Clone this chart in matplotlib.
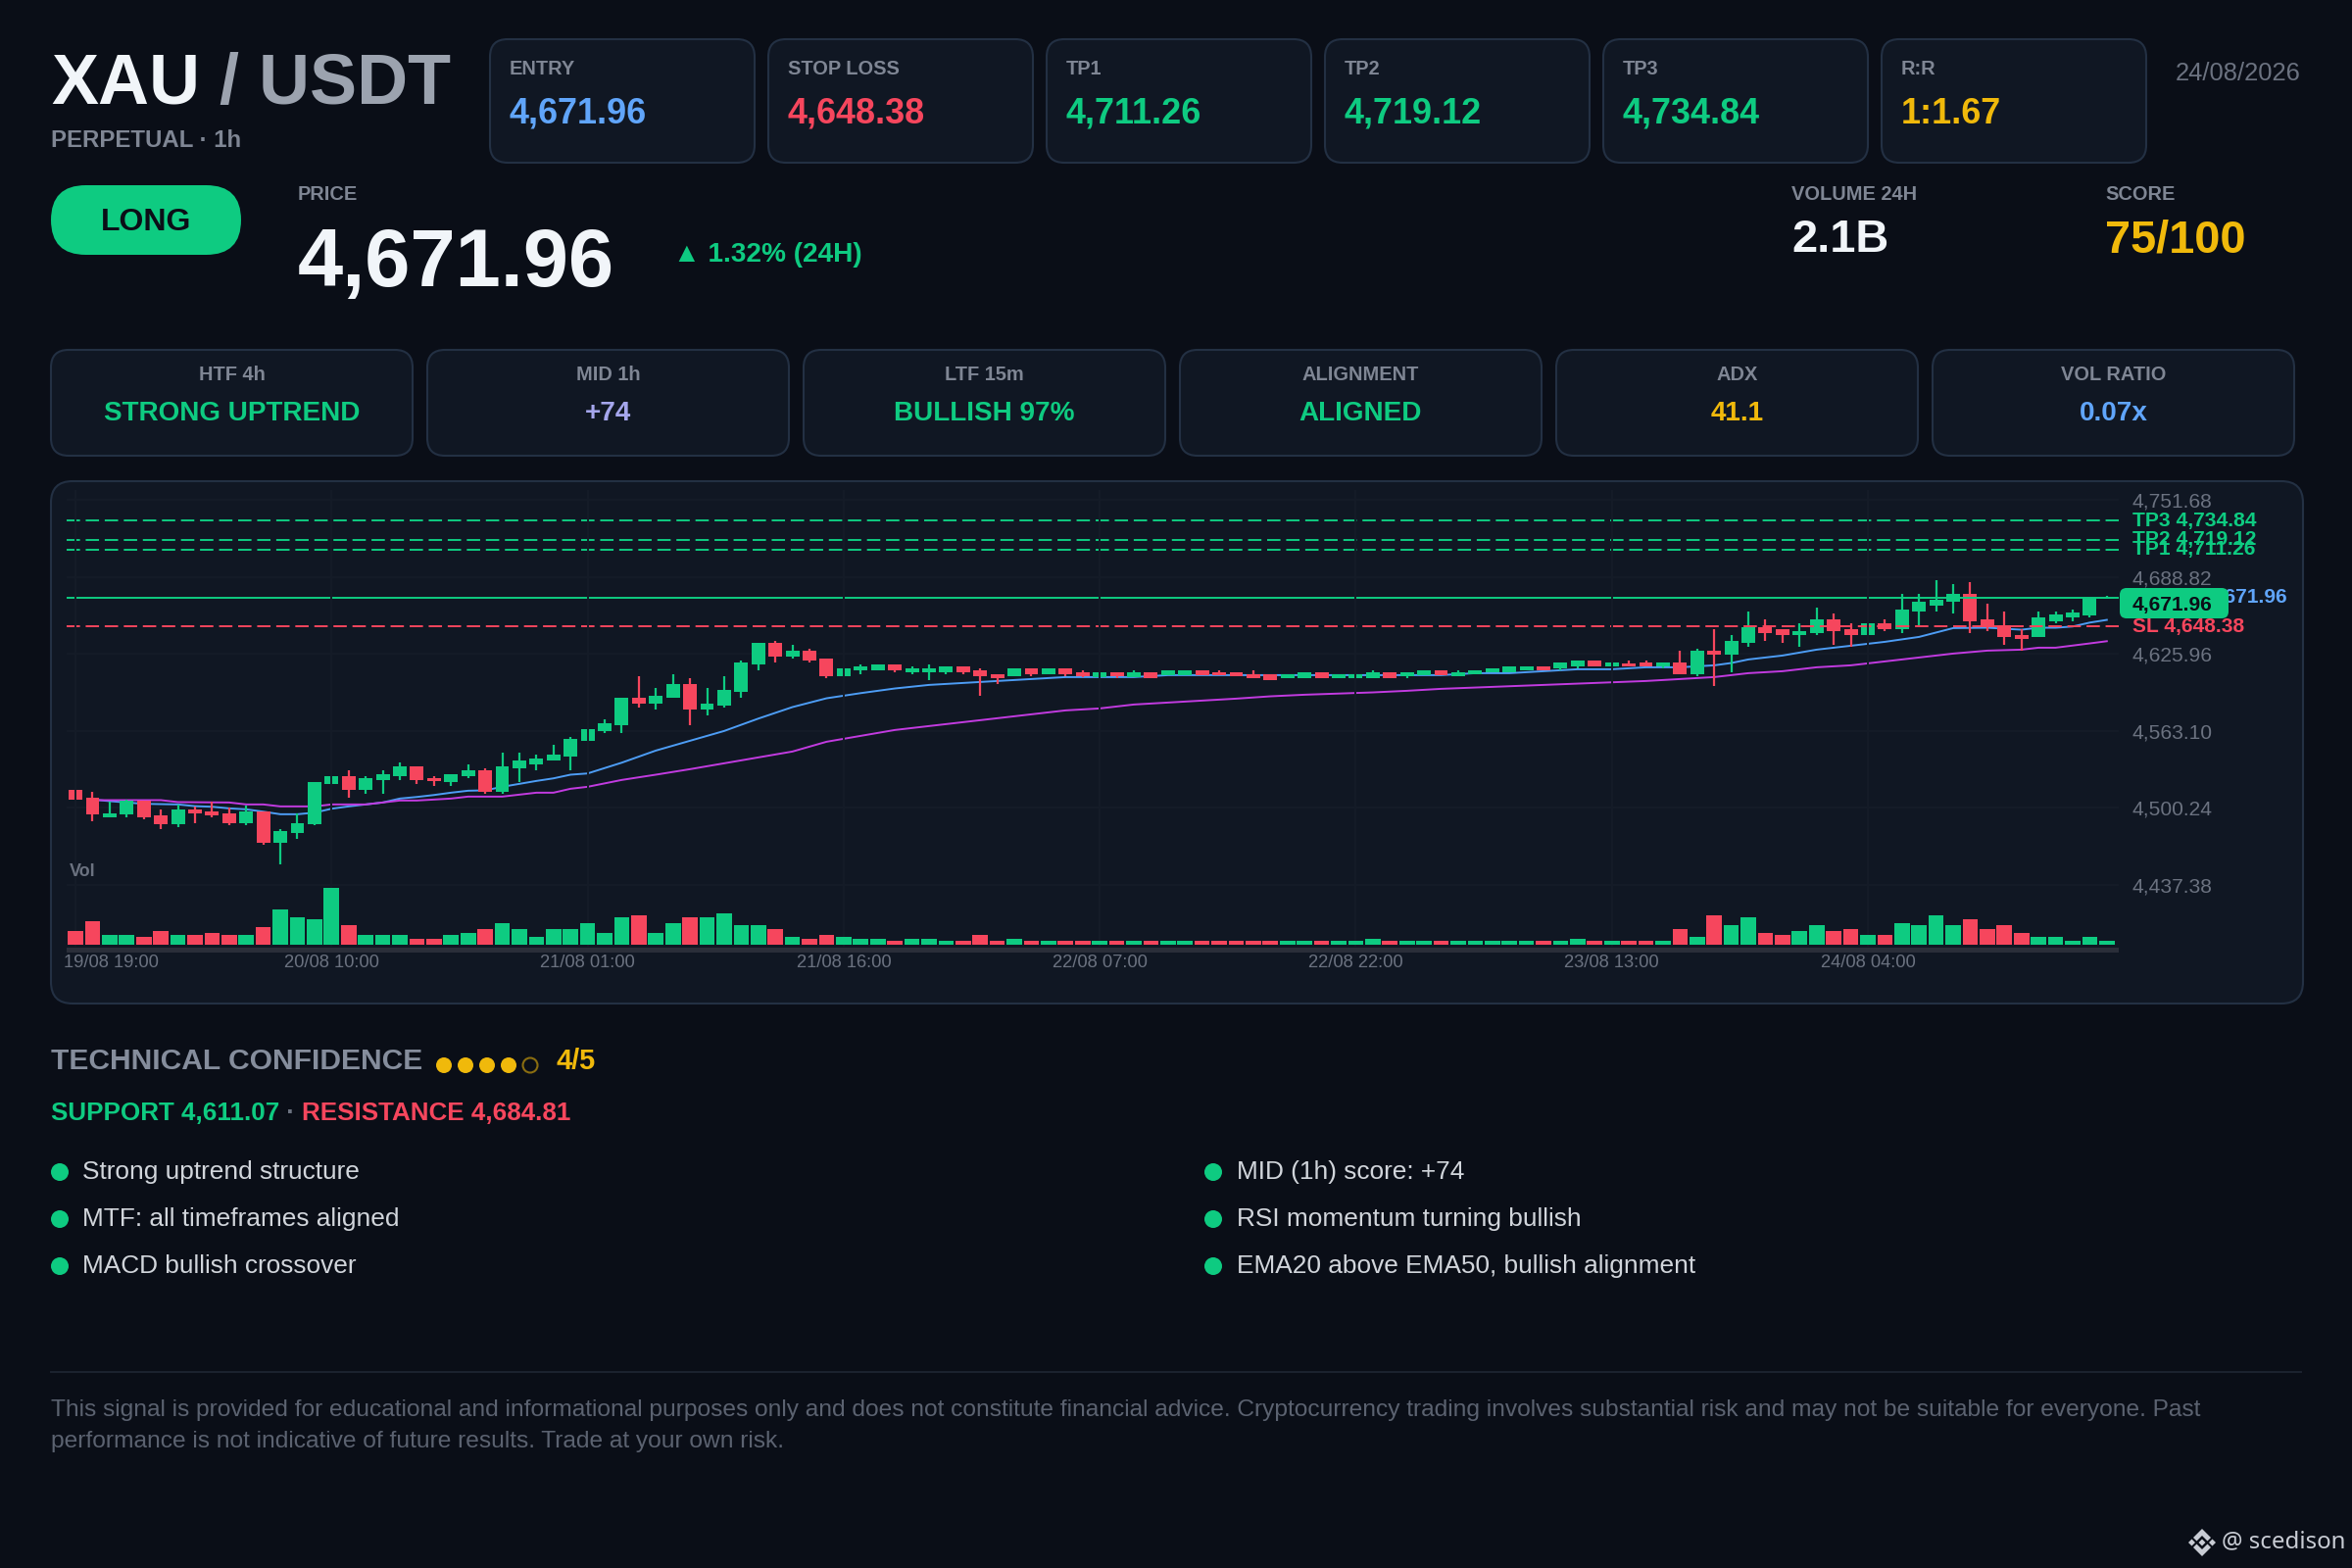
import matplotlib
matplotlib.use("Agg")
import matplotlib.pyplot as plt
from matplotlib.patches import FancyBboxPatch, Circle, Polygon
from matplotlib.transforms import ScaledTranslation

plt.rcParams['font.family'] = ['Liberation Sans', 'DejaVu Sans']

BG = '#0a0e17'
CARD = '#101723'
BORDER = '#233043'
GREEN = '#0ecb81'
RED = '#f6465d'
YELLOW = '#f0b90b'
BLUE = '#60a5fa'
LILAC = '#a5a6ec'
WHITE = '#f1f5f9'
MUTED = '#7f8694'
GRID = '#151c28'

# candles
opens = [4514.9, 4508.2, 4492.5, 4494.4, 4505.6, 4493.8, 4486.4, 4498.9, 4497.0, 4495.4,
         4487.7, 4497.0, 4471.7, 4479.7, 4486.4, 4519.7, 4526.1, 4514.9, 4522.9, 4525.8,
         4533.8, 4524.5, 4521.3, 4525.8, 4530.6, 4513.3, 4532.5, 4535.7, 4538.9, 4542.1,
         4554.9, 4562.6, 4568.0, 4589.8, 4585.0, 4590.1, 4601.0, 4580.5, 4583.7, 4594.9,
         4617.3, 4634.9, 4623.7, 4628.5, 4622.1, 4607.7, 4612.5, 4612.5, 4617.0, 4610.9,
         4610.9, 4610.9, 4615.4, 4612.5, 4609.0, 4608.0, 4614.1, 4609.3, 4614.1, 4610.9,
         4606.6, 4610.9, 4606.6, 4610.9, 4608.2, 4608.2, 4612.5, 4610.9, 4610.9, 4609.3,
         4609.3, 4606.4, 4606.4, 4610.9, 4606.4, 4606.4, 4606.4, 4610.9, 4607.7, 4608.2,
         4612.5, 4608.0, 4609.6, 4610.9, 4610.9, 4612.5, 4615.7, 4614.1, 4615.7, 4620.5,
         4615.7, 4618.4, 4618.9, 4615.7, 4618.9, 4609.3, 4628.5, 4625.3, 4634.9, 4647.7,
         4645.8, 4641.3, 4642.9, 4654.1, 4645.8, 4641.3, 4650.9, 4646.1, 4660.5, 4665.3,
         4668.5, 4674.9, 4654.1, 4649.3, 4641.3, 4639.7, 4652.5, 4655.7, 4657.3, 4670.9]
highs = [4514.9, 4513.0, 4505.0, 4506.4, 4505.6, 4498.9, 4502.4, 4501.5, 4505.0, 4500.5,
         4501.8, 4497.0, 4482.9, 4495.2, 4521.3, 4526.1, 4530.9, 4526.1, 4530.9, 4537.3,
         4533.8, 4526.1, 4527.4, 4535.7, 4532.5, 4545.0, 4545.0, 4543.7, 4551.7, 4558.1,
         4564.5, 4572.5, 4589.8, 4607.7, 4598.1, 4609.0, 4605.8, 4598.1, 4607.7, 4620.5,
         4634.9, 4636.5, 4633.3, 4630.1, 4622.1, 4614.1, 4617.3, 4617.3, 4617.0, 4615.7,
         4617.3, 4615.4, 4615.4, 4614.1, 4609.0, 4614.1, 4614.1, 4614.1, 4614.1, 4612.5,
         4610.9, 4610.9, 4612.5, 4610.9, 4612.5, 4612.5, 4612.5, 4612.5, 4610.9, 4612.5,
         4609.3, 4609.0, 4610.9, 4610.9, 4609.0, 4609.3, 4612.5, 4610.9, 4610.9, 4612.5,
         4612.5, 4612.5, 4612.5, 4613.8, 4615.7, 4615.7, 4615.7, 4618.9, 4620.5, 4620.5,
         4618.9, 4620.5, 4620.5, 4618.9, 4628.5, 4630.1, 4646.1, 4641.3, 4660.5, 4654.1,
         4645.8, 4650.9, 4663.7, 4658.9, 4650.9, 4650.9, 4654.1, 4674.9, 4674.9, 4686.1,
         4682.9, 4684.5, 4666.9, 4660.5, 4646.1, 4660.5, 4660.5, 4662.1, 4671.7, 4673.0]
lows = [4506.9, 4489.0, 4492.5, 4492.5, 4490.9, 4482.9, 4484.5, 4487.7, 4492.5, 4486.1,
        4486.1, 4470.1, 4454.1, 4474.9, 4486.1, 4519.7, 4508.5, 4511.7, 4511.7, 4522.9,
        4519.7, 4518.1, 4518.1, 4524.2, 4511.7, 4511.7, 4521.3, 4530.9, 4538.9, 4530.9,
        4554.9, 4561.0, 4561.3, 4582.1, 4580.5, 4590.1, 4567.7, 4575.7, 4582.1, 4590.1,
        4612.5, 4618.9, 4622.1, 4618.9, 4606.1, 4607.7, 4609.3, 4612.5, 4610.9, 4609.3,
        4604.5, 4609.3, 4609.3, 4591.7, 4601.3, 4608.0, 4607.7, 4609.3, 4607.7, 4606.6,
        4606.6, 4606.1, 4606.6, 4606.4, 4608.2, 4608.2, 4608.2, 4608.2, 4608.0, 4606.4,
        4604.8, 4606.4, 4606.4, 4606.4, 4606.4, 4606.4, 4606.4, 4606.4, 4606.1, 4608.2,
        4608.2, 4608.0, 4609.6, 4610.9, 4610.9, 4612.5, 4612.5, 4612.5, 4614.1, 4615.7,
        4615.7, 4615.7, 4615.7, 4614.1, 4609.3, 4607.7, 4599.7, 4610.9, 4631.7, 4636.5,
        4634.9, 4631.7, 4641.3, 4633.3, 4631.7, 4641.3, 4644.5, 4642.9, 4649.3, 4660.5,
        4658.9, 4642.9, 4644.5, 4633.3, 4628.5, 4639.7, 4650.9, 4652.5, 4655.7, 4670.9]
closes = [4506.9, 4494.4, 4495.7, 4505.6, 4492.5, 4486.4, 4498.9, 4495.7, 4493.8, 4487.7,
          4497.0, 4471.7, 4481.0, 4487.4, 4521.3, 4526.1, 4514.9, 4524.2, 4527.4, 4533.8,
          4522.9, 4521.6, 4527.4, 4530.6, 4513.3, 4533.8, 4538.6, 4540.2, 4543.4, 4556.5,
          4564.5, 4569.0, 4589.8, 4585.0, 4591.4, 4601.0, 4580.5, 4585.0, 4596.2, 4618.9,
          4634.9, 4623.7, 4628.5, 4620.5, 4607.7, 4614.1, 4615.7, 4617.3, 4612.5, 4614.1,
          4614.1, 4615.4, 4610.9, 4607.7, 4606.1, 4614.1, 4609.3, 4614.1, 4609.3, 4607.7,
          4610.9, 4607.7, 4610.9, 4606.4, 4612.5, 4612.5, 4608.2, 4608.2, 4608.0, 4606.4,
          4604.8, 4609.0, 4610.9, 4606.4, 4609.0, 4609.3, 4610.9, 4606.4, 4610.9, 4612.5,
          4608.2, 4610.9, 4612.5, 4613.8, 4615.7, 4615.7, 4612.5, 4618.9, 4620.5, 4615.7,
          4618.9, 4615.7, 4615.7, 4618.9, 4609.3, 4628.5, 4625.3, 4636.5, 4647.7, 4642.9,
          4641.3, 4644.5, 4654.1, 4644.5, 4641.3, 4650.9, 4646.1, 4662.1, 4668.5, 4670.1,
          4674.9, 4652.5, 4647.7, 4639.7, 4638.1, 4655.7, 4657.8, 4659.4, 4671.7, 4671.96]

# volume bar heights, relative units
volumes = [42, 72, 30, 30, 24, 42, 30, 30, 36, 30,
           30, 54, 108, 84, 78, 174, 60, 30, 30, 30,
           18, 18, 30, 36, 48, 66, 48, 24, 48, 48,
           66, 36, 84, 90, 36, 66, 84, 84, 96, 60,
           60, 48, 24, 18, 30, 24, 18, 18, 12, 18,
           18, 12, 12, 30, 12, 18, 12, 12, 12, 12,
           12, 12, 12, 12, 12, 12, 12, 12, 12, 12,
           12, 12, 12, 12, 12, 12, 18, 12, 12, 12,
           12, 12, 12, 12, 12, 12, 12, 12, 18, 12,
           12, 12, 12, 12, 48, 24, 90, 60, 84, 36,
           30, 42, 60, 42, 48, 30, 30, 66, 60, 90,
           60, 78, 48, 60, 36, 24, 24, 12, 24, 12]

ema20_idx = [1, 2, 4, 6, 7, 8, 9, 10, 11, 12, 13, 14, 15, 16, 17, 18, 19, 20, 21, 22, 23, 24, 25, 26, 27, 28, 29, 30,
             32, 34, 36, 38, 40, 42, 44, 46, 48, 50, 52, 54, 56, 58, 62, 64, 70, 80, 82, 84, 86, 88, 90, 92, 94, 96,
             97, 98, 100, 102, 104, 106, 108, 110, 112, 114, 115, 116, 117, 118, 119]
ema20 = [4506.9, 4505.6, 4503.4, 4502.9, 4501.5, 4501.0, 4499.7, 4498.9, 4497.0, 4494.9, 4494.9, 4496.2, 4499.4, 4501.3,
         4502.9, 4504.5, 4507.7, 4509.0, 4510.6, 4512.5, 4514.1, 4514.4, 4517.3, 4519.7, 4522.1, 4524.2, 4527.2, 4528.2,
         4537.0, 4546.9, 4554.9, 4562.9, 4573.0, 4582.4, 4589.6, 4593.8, 4597.6, 4600.5, 4602.1, 4603.7, 4605.3, 4606.9,
         4606.9, 4608.5, 4608.5, 4608.5, 4610.1, 4610.1, 4611.7, 4613.3, 4613.3, 4614.9, 4614.9, 4616.5, 4618.4, 4621.3,
         4624.5, 4629.3, 4632.5, 4635.7, 4639.7, 4646.9, 4647.2, 4645.6, 4647.2, 4647.2, 4648.2, 4651.4, 4653.6]
ema50_idx = [1, 5, 6, 9, 10, 11, 12, 14, 15, 17, 18, 19, 20, 22, 23, 25, 26, 27, 28, 29, 30, 32, 34, 36, 38, 40, 42, 44,
             46, 48, 50, 52, 54, 56, 58, 60, 62, 64, 66, 68, 70, 72, 76, 78, 80, 83, 86, 89, 92, 94, 96, 98, 100, 102,
             104, 106, 108, 110, 112, 114, 115, 116, 118, 119]
ema50 = [4506.4, 4506.4, 4504.8, 4504.5, 4502.9, 4502.9, 4501.3, 4501.3, 4502.9, 4502.9, 4504.5, 4506.1, 4506.1, 4507.7,
         4509.3, 4509.3, 4510.9, 4512.5, 4512.5, 4515.7, 4517.3, 4522.9, 4527.2, 4531.7, 4536.5, 4541.3, 4546.1, 4554.1,
         4558.9, 4563.7, 4566.9, 4570.1, 4573.3, 4576.5, 4579.7, 4581.3, 4584.5, 4586.1, 4587.7, 4589.3, 4591.2, 4592.5,
         4594.4, 4595.7, 4597.3, 4598.9, 4600.5, 4602.1, 4603.7, 4605.3, 4606.9, 4610.1, 4611.7, 4614.9, 4616.5, 4619.7,
         4622.9, 4626.1, 4628.5, 4629.3, 4630.9, 4630.9, 4634.4, 4636.2]

price_ticks = [4751.68, 4688.82, 4625.96, 4563.10, 4500.24, 4437.38]
time_idx = [0, 15, 30, 45, 60, 75, 90, 105]
time_labels = ['19/08 19:00', '20/08 10:00', '21/08 01:00', '21/08 16:00',
               '22/08 07:00', '22/08 22:00', '23/08 13:00', '24/08 04:00']

last_price = 4671.96
sl_price = 4648.38
tp_levels = [('TP3', 4734.84), ('TP2', 4719.12), ('TP1', 4711.26)]

top_cards = [('ENTRY', '4,671.96', BLUE), ('STOP LOSS', '4,648.38', RED), ('TP1', '4,711.26', GREEN),
             ('TP2', '4,719.12', GREEN), ('TP3', '4,734.84', GREEN), ('R:R', '1:1.67', YELLOW)]
mid_cards = [('HTF 4h', 'STRONG UPTREND', GREEN), ('MID 1h', '+74', LILAC), ('LTF 15m', 'BULLISH 97%', GREEN),
             ('ALIGNMENT', 'ALIGNED', GREEN), ('ADX', '41.1', YELLOW), ('VOL RATIO', '0.07x', BLUE)]
reasons_left = ['Strong uptrend structure', 'MTF: all timeframes aligned', 'MACD bullish crossover']
reasons_right = ['MID (1h) score: +74', 'RSI momentum turning bullish', 'EMA20 above EMA50, bullish alignment']

fig = plt.figure(figsize=(24, 16), dpi=100, facecolor=BG)
renderer = fig.canvas.get_renderer()

page = fig.add_axes([0, 0, 1, 1], zorder=0)
page.set_xlim(0, 2400)
page.set_ylim(1600, 0)
page.axis('off')


def put(x, y, s, px, color, weight='normal', ha='left', va='center', where=page, **kw):
    # centred text sits a little high against the reference
    if va == 'center':
        y += 2
    return where.text(x, y, s, fontsize=px * 0.72, color=color, fontweight=weight, ha=ha, va=va, **kw)


def chain(x, y, parts, px, weight='bold', va='center'):
    for s, color in parts:
        t = put(x, y, s, px, color, weight, va=va)
        x = t.get_window_extent(renderer).x1
    return x


def card(x, y, w, h, r, face=CARD, edge=BORDER, lw=1.5, where=page):
    where.add_patch(FancyBboxPatch((x, y), w, h, boxstyle=f'round,pad=0,rounding_size={r}',
                                   fc=face, ec=edge, lw=lw))


# header
chain(52, 106, [('XAU', WHITE), (' / USDT', '#9ca3af')], 72, va='baseline')
put(52, 141, 'PERPETUAL · 1h', 24, MUTED, 'bold')
for k, (label, value, color) in enumerate(top_cards):
    x = 500 + 284 * k
    card(x, 40, 270, 126, 18)
    put(x + 20, 69, label, 20, MUTED, 'bold')
    put(x + 20, 114, value, 36, color, 'bold')
put(2348, 73, '24/08/2026', 25.5, '#6b7280', ha='right')

card(52, 189, 194, 71, 35.5, face=GREEN, edge=GREEN, lw=0)
put(149, 225, 'LONG', 32, '#0b0e17', 'bold', ha='center')
put(304, 197, 'PRICE', 20, MUTED, 'bold')
put(304, 292, '4,671.96', 83, WHITE, 'bold', va='baseline')
put(687, 258, '▲ 1.32% (24H)', 28, GREEN, 'bold')
put(1828, 197, 'VOLUME 24H', 20, MUTED, 'bold')
put(1828, 243, '2.1B', 47, WHITE, 'bold')
put(2148, 197, 'SCORE', 20, MUTED, 'bold')
put(2148, 243, '75/100', 47, YELLOW, 'bold')

for k, (label, value, color) in enumerate(mid_cards):
    x = 52 + 384 * k
    card(x, 357, 369, 108, 18)
    put(x + 184.5, 381, label, 20, MUTED, 'bold', ha='center')
    put(x + 184.5, 420, value, 27.9, color, 'bold', ha='center')

# chart
card(52, 491, 2298, 533, 22)


def px_rect(x0, y0, x1, y1):
    return [x0 / 2400, 1 - y1 / 1600, (x1 - x0) / 2400, (y1 - y0) / 1600]


def y_to_price(y):
    return 4751.68 - (y - 510) / 1.2495


ax = fig.add_axes(px_rect(68, 500, 2162, 966), zorder=1)
ax.patch.set_alpha(0)
ax.set_xlim(-0.52, 119.7)
ax.set_ylim(y_to_price(966), y_to_price(500))
for s in ax.spines.values():
    s.set_visible(False)
ax.yaxis.tick_right()
ax.set_yticks(price_ticks)
ax.set_yticklabels([f'{p:,.2f}' for p in price_ticks])
ax.set_xticks(time_idx)
ax.set_xticklabels(time_labels)
ax.tick_params(axis='y', length=0, pad=10, labelsize=21 * 0.72, labelcolor='#6b7280')
ax.tick_params(axis='x', length=0, pad=6, labelsize=18.4 * 0.72, labelcolor='#6b7280')
first = ax.get_xticklabels()[0]
first.set_ha('left')
first.set_transform(first.get_transform() + ScaledTranslation(-0.12, 0, fig.dpi_scale_trans))
ax.grid(axis='y', color=GRID, lw=1.4, zorder=0)
ax.set_axisbelow(True)

xs = range(len(opens))
colors = [GREEN if c >= o else RED for o, c in zip(opens, closes)]
ax.plot(ema20_idx, ema20, color='#4d9df5', lw=1.4, zorder=2)
ax.plot(ema50_idx, ema50, color='#c23be0', lw=1.4, zorder=2)
ax.vlines(xs, lows, highs, colors=colors, lw=1.6, zorder=3)
ax.bar(xs, [abs(c - o) for o, c in zip(opens, closes)], bottom=[min(o, c) for o, c in zip(opens, closes)],
       width=0.8, color=colors, zorder=3)

for name, level in tp_levels:
    ax.axhline(level, color=GREEN, lw=1.4, dashes=(7, 3), zorder=4)
ax.axhline(sl_price, color=RED, lw=1.4, dashes=(7, 3), zorder=4)
ax.axhline(last_price, color=GREEN, lw=1.4, zorder=4)
for i in time_idx:
    ax.axvline(i, color=GRID, lw=1.4, zorder=5)

lab_tr = ax.get_yaxis_transform()
lab_x = (2176 - 68) / (2162 - 68)
for name, level in tp_levels:
    ax.text(lab_x, level, f'{name} {level:,.2f}', transform=lab_tr, color=GREEN, fontsize=21 * 0.72,
            fontweight='bold', va='center')
ax.text(lab_x, sl_price, f'SL {sl_price:,.2f}', transform=lab_tr, color=RED, fontsize=21 * 0.72,
        fontweight='bold', va='center')
ax.text(lab_x, last_price, f'ENTRY {last_price:,.2f}', transform=lab_tr, color=BLUE, fontsize=21 * 0.72,
        fontweight='bold', va='center')

vol = fig.add_axes(px_rect(68, 500, 2162, 964), zorder=2)
vol.patch.set_alpha(0)
vol.set_xlim(-0.52, 119.7)
vol.set_ylim(0, 464 * 3)
vol.axis('off')
vol.bar(xs, volumes, width=0.9, color=colors)

over = fig.add_axes([0, 0, 1, 1], zorder=3)
over.set_xlim(0, 2400)
over.set_ylim(1600, 0)
over.axis('off')
over.patch.set_alpha(0)
over.fill_between([68, 2162], 967, 972, color='#2a2e39', lw=0)
put(71, 887, 'Vol', 18, '#6b7280', 'bold', where=over)
card(2163, 600, 111, 31, 7, face=GREEN, edge=GREEN, lw=0, where=over)
put(2176, 615, f'{last_price:,.2f}', 21, '#0b0e17', 'bold', where=over)

# confidence block
put(52, 1081, 'TECHNICAL CONFIDENCE', 30, '#858d9c', 'bold')
for k in range(5):
    cx = 453 + 22 * k
    if k < 4:
        page.add_patch(Circle((cx, 1087), 8, fc=YELLOW, ec='none'))
    else:
        page.add_patch(Circle((cx, 1087), 7.5, fc='none', ec='#8a6d10', lw=1.5))
put(568, 1081, '4/5', 29, YELLOW, 'bold')
chain(52, 1134, [('SUPPORT 4,611.07', GREEN), (' · ', '#6b7280'), ('RESISTANCE 4,684.81', RED)], 26)

for col_x, items in ((61, reasons_left), (1238, reasons_right)):
    for k, s in enumerate(items):
        page.add_patch(Circle((col_x, 1196 + 48 * k), 9, fc=GREEN, ec='none'))
        put(col_x + 23.5, 1194 + 48 * k, s, 26.2, '#d1d5db')

# disclaimer
page.plot([52, 2348], [1400, 1400], color='#1c232f', lw=1.4)
put(52, 1437, 'This signal is provided for educational and informational purposes only and does not constitute '
    'financial advice. Cryptocurrency trading involves substantial risk and may not be suitable for everyone. Past',
    24.5, '#5b6270')
put(52, 1469, 'performance is not indicative of future results. Trade at your own risk.', 24.5, '#5b6270')

# watermark
mark = '#c8ccd4'
lx, ly = 2247, 1574
for pts in ([(-14, 0), (-10.5, -3.5), (-7, 0), (-10.5, 3.5)], [(14, 0), (10.5, -3.5), (7, 0), (10.5, 3.5)],
            [(-3.5, 0), (0, -3.5), (3.5, 0), (0, 3.5)],
            [(0, -14), (9, -5), (5.5, -1.5), (0, -7), (-5.5, -1.5), (-9, -5)],
            [(0, 14), (9, 5), (5.5, 1.5), (0, 7), (-5.5, 1.5), (-9, 5)]):
    page.add_patch(Polygon([(lx + a, ly + b) for a, b in pts], fc=mark, ec='none'))
put(2267, 1571, '@ scedison', 24, mark, family='Noto Sans')

fig.savefig('out.png', dpi=100, facecolor=BG)
